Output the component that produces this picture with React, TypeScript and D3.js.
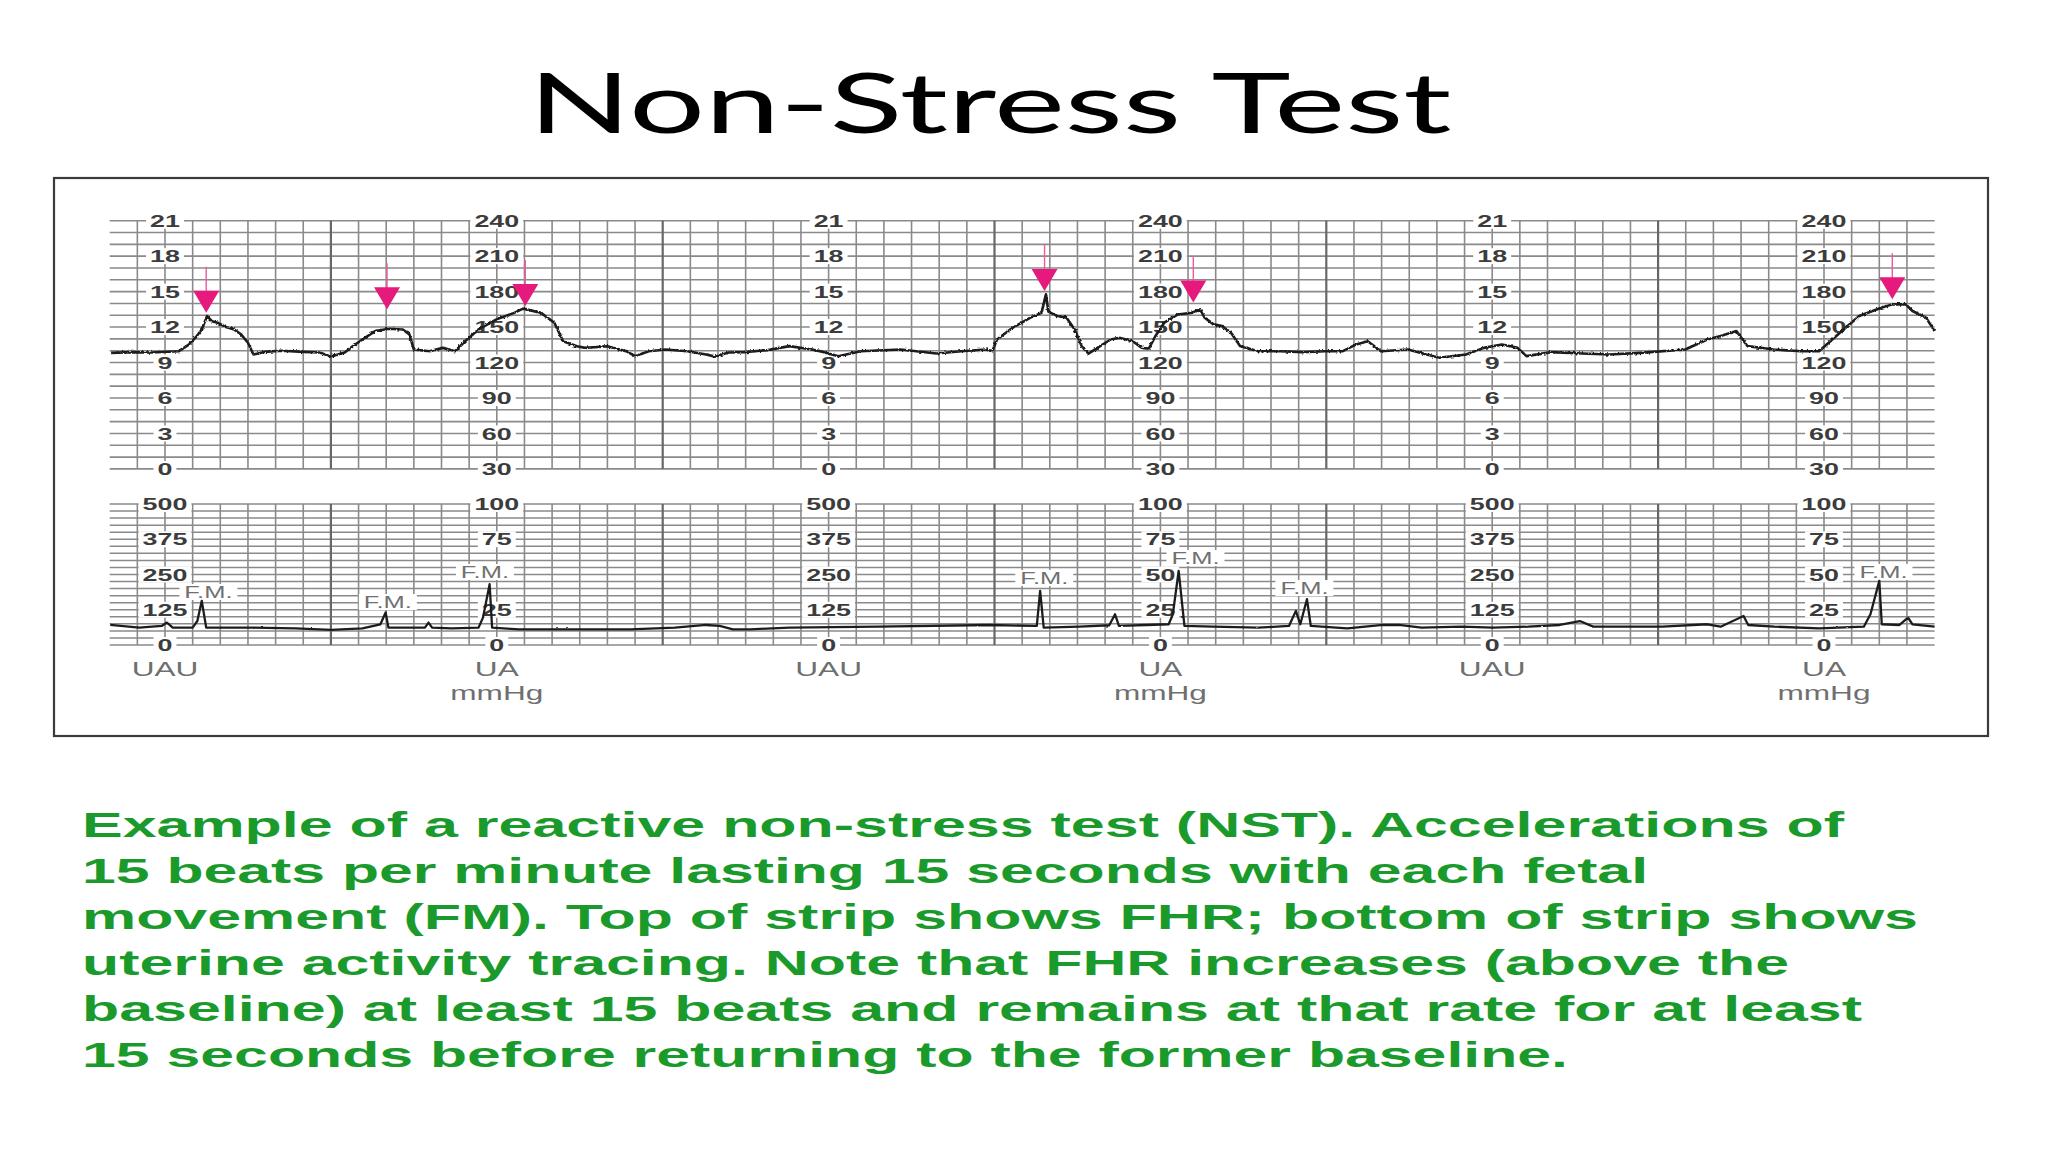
import React from 'react';
import * as d3 from 'd3';

const W = 2048;
const H = 1152;

// ---- Data (time in seconds, FHR in bpm, UA in mmHg) ----
const fhrTime = [0.5, 8, 15, 25, 28.5, 31, 33.3, 35.2, 37, 39, 42, 45, 47.5, 50, 52, 56, 62, 70, 76, 80, 85, 88, 91.4, 96, 101, 106, 108.4, 110, 115.7, 120.5, 125, 128.5, 133.4, 139.9, 146.3, 149.5, 156, 160.8, 164, 169, 172, 180, 186.8, 190, 195, 201, 209, 215.7, 219, 223.8, 229.6, 238, 245.8, 253.9, 258, 263.5, 271.6, 286, 299, 308, 316.8, 319.2, 320.9, 326.5, 333, 337, 338.6, 339.5, 342.7, 346, 349, 351.5, 354, 357.2, 362, 365.2, 370, 373.3, 375.8, 378.2, 381.4, 386.3, 391.2, 394.3, 396, 399.2, 402.4, 405.6, 408.8, 415.3, 423.4, 431.4, 439.5, 446, 450.8, 455, 459.8, 469.5, 480.8, 490.5, 497, 503.5, 509.2, 512.4, 521.3, 532.5, 542.3, 553.6, 569.8, 577.8, 582.6, 588.3, 592.3, 602, 611.7, 618.2, 623, 627.8, 632.7, 640.7, 644.7, 649.6, 652, 656.9, 660];
const fhrBpm = [128.2, 128.8, 128.5, 129.6, 135, 141, 148, 159.3, 155, 153.7, 150, 148, 143.8, 136.7, 126.8, 129, 130, 129, 128.5, 125, 128.5, 134, 139.5, 146.6, 148.6, 148, 143.8, 131, 129.6, 132.4, 129.6, 138, 148, 156.5, 162, 165.6, 162, 153.7, 138, 133.8, 132.4, 133.8, 129.6, 125.4, 129.6, 131, 129.6, 126.8, 125, 128.5, 128.8, 130.5, 133.9, 131, 129, 125.4, 129.6, 131, 127.6, 129.5, 131, 129.6, 139.5, 149.4, 158, 162, 177.7, 163, 159.3, 158, 148, 133.9, 127.6, 132.4, 139.5, 141, 138, 132.4, 131.8, 142.4, 153.7, 160.7, 162, 165, 158, 152.3, 150.8, 145, 133.9, 129.6, 129.6, 128.8, 129.6, 129.6, 135.3, 138, 129.6, 131, 124, 126.8, 132.4, 135.3, 132.4, 125.4, 128.8, 127.6, 126.8, 128.2, 131, 139.5, 142.4, 146.6, 133.9, 131, 129.6, 129.6, 139.5, 149.4, 159.3, 166.4, 169.2, 169.2, 163.6, 158, 146.6];

const uaTime = [0.2, 10.7, 18.8, 20.7, 22.8, 30, 31.7, 33.3, 34.9, 51.1, 67.2, 80.1, 91.4, 97.9, 99.8, 100.8, 107.5, 114, 115.3, 116.6, 123.7, 133.4, 135, 137.4, 138.3, 148, 164, 188.3, 204.4, 215.7, 220.6, 225.4, 231.6, 245.8, 278, 318.4, 335.3, 336.5, 337.8, 350.7, 361.5, 363.6, 365, 375, 383, 384.5, 386.6, 388.7, 399, 415.3, 426.5, 429, 430.6, 433, 434.4, 447.6, 460.5, 466.3, 474.4, 488.9, 500.2, 513.1, 524.4, 531.7, 536.5, 561.6, 577.8, 582.6, 590.9, 592.6, 602, 618.2, 634.4, 636.8, 640, 640.9, 647.3, 650.4, 652, 660];
const uaMmHg = [14.2, 12.3, 13.5, 15.9, 12.3, 12.3, 17, 31.3, 12.3, 12.3, 11.8, 10.7, 11.8, 14.7, 23, 12.3, 12.3, 12.3, 15.9, 12.3, 11.8, 12.3, 19.4, 43.1, 12.3, 11.1, 11.1, 11.1, 12.3, 14.2, 13.5, 11.1, 11.1, 12.3, 13, 14.2, 13.5, 38.4, 12.3, 13, 14, 21.8, 13.5, 14.2, 14.7, 21.8, 52.6, 13.5, 13, 12.3, 13.5, 24.2, 14.7, 32.5, 13.5, 11.8, 14.2, 14.2, 12.3, 13, 12.3, 13, 14.2, 17, 13, 13, 14.7, 13, 20.6, 14.2, 13, 11.8, 13, 21.8, 45.5, 14.7, 14.2, 19.4, 14.7, 13];

// acceleration markers (time, bpm at arrow tip)
const arrowTime = [34.9, 100.3, 150.3, 338.1, 391.9, 644.7];
const arrowBpm = [162.2, 165, 167.8, 180.6, 170.7, 173.5];

// fetal movement annotations (time, mmHg level of label)
const fmTime = [35.7, 100.6, 135.7, 338, 392.7, 432.1, 641.5];
const fmLevel = [37.6, 30.5, 51.8, 47.5, 61.7, 40.4, 51.8];

// axes
const kpaTicks = [0, 3, 6, 9, 12, 15, 18, 21];
const bpmTicks = [30, 60, 90, 120, 150, 180, 210, 240];
const uauTicks = [0, 125, 250, 375, 500];
const mmhgTicks = [0, 25, 50, 75, 100];
const leftAxisTimes = [20, 260, 500];
const rightAxisTimes = [140, 380, 620];

const titleText = 'Non-Stress Test';
const captionLines = [
  'Example of a reactive non-stress test (NST). Accelerations of',
  '15 beats per minute lasting 15 seconds with each fetal',
  'movement (FM). Top of strip shows FHR; bottom of strip shows',
  'uterine activity tracing. Note that FHR increases (above the',
  'baseline) at least 15 beats and remains at that rate for at least',
  '15 seconds before returning to the former baseline.',
];
const captionWidths = [1762, 1566, 1836, 1707, 1780, 1486];

const SX = 1.58;
const LABEL_FONT = '"Liberation Sans", Arial, sans-serif';

function StretchText(props: any) {
  const { x, y, size, weight, fill, children, sx } = props;
  return (
    <text
      transform={`translate(${x},${y}) scale(${sx ?? SX},1)`}
      textAnchor="middle"
      dominantBaseline="central"
      fontFamily={LABEL_FONT}
      fontSize={size}
      fontWeight={weight ?? 'normal'}
      fill={fill}
    >
      {children}
    </text>
  );
}

export default function App() {
  const x = d3.scaleLinear().domain([0, 660]).range([109.7, 1934.6]);
  const yF = d3.scaleLinear().domain([30, 240]).range([468.9, 220.7]);
  const yU = d3.scaleLinear().domain([0, 100]).range([645, 504]);

  const fhrPath = d3
    .line<number>()
    .x((_, i) => x(fhrTime[i]))
    .y((d) => yF(d))(fhrBpm) as string;
  const uaPath = d3
    .line<number>()
    .x((_, i) => x(uaTime[i]))
    .y((d) => yU(d))(uaMmHg) as string;

  const divs = d3.range(1, 66);
  const fhrLines = d3.range(30, 241, 10);
  const uaLines = d3.range(0, 101, 5);

  const gridColor = '#8a8a8a';
  const majorColor = '#676767';

  const FM_W = 58;
  const FM_H = 16;
  const fmBoxes = fmTime.map((t, i) => ({ x0: x(t) - FM_W / 2, x1: x(t) + FM_W / 2, y0: yU(fmLevel[i]) - FM_H / 2, y1: yU(fmLevel[i]) + FM_H / 2 }));

  const tickLabel = (cx: number, cy: number, txt: string, key: string) => {
    const w = txt.length * 0.556 * 17 * SX + 8;
    const tw = txt.length * 0.556 * 17 * SX;
    // hidden where an F.M. annotation box covers the label centre
    const covered = fmBoxes.some((b) => cx - tw / 4 < b.x1 && cx + tw / 4 > b.x0 && cy > b.y0 && cy < b.y1);
    if (covered) return null;
    return (
      <g key={key}>
        <rect x={cx - w / 2} y={cy - 8} width={w} height={16} fill="#fff" />
        <StretchText x={cx} y={cy + 0.5} size={17} weight="bold" fill="#3c3c3c">
          {txt}
        </StretchText>
      </g>
    );
  };

  const isMajor = (d: number) => d % 6 === 2 && d % 12 !== 2;

  return (
    <svg
      width={W}
      height={H}
      viewBox={`0 0 ${W} ${H}`}
      style={{ position: 'absolute', left: 0, top: 0, background: '#fff' }}
    >
      <defs>
        <filter id="rough" x="-2%" y="-30%" width="104%" height="160%">
          <feTurbulence type="fractalNoise" baseFrequency="0.45" numOctaves="1" seed="7" />
          <feDisplacementMap in="SourceGraphic" scale="3.2" xChannelSelector="R" yChannelSelector="G" />
        </filter>
        <filter id="roughLight" x="-2%" y="-30%" width="104%" height="160%">
          <feTurbulence type="fractalNoise" baseFrequency="0.2" numOctaves="1" seed="3" />
          <feDisplacementMap in="SourceGraphic" scale="1.8" xChannelSelector="R" yChannelSelector="G" />
        </filter>
      </defs>
      <rect x={0} y={0} width={W} height={H} fill="#fff" />
      <text
        x={990}
        y={133}
        textAnchor="middle"
        fontFamily="Lato, 'Open Sans', sans-serif"
        fontSize={84}
        textLength={923}
        lengthAdjust="spacingAndGlyphs"
        fill="#000"
      >
        {titleText}
      </text>

      <rect x={54} y={178} width={1934} height={558} fill="#fff" stroke="#3a3a3a" strokeWidth={2.2} />

      {/* FHR grid */}
      <g>
        {fhrLines.map((v) => (
          <line key={'fh' + v} x1={x(0)} x2={x(660)} y1={yF(v)} y2={yF(v)} stroke={gridColor} strokeWidth={1.6} />
        ))}
        {divs.map((d) => (
          <line
            key={'fv' + d}
            x1={x(d * 10)}
            x2={x(d * 10)}
            y1={yF(240)}
            y2={yF(30)}
            stroke={isMajor(d) ? majorColor : gridColor}
            strokeWidth={isMajor(d) ? 2.2 : 1.6}
          />
        ))}
      </g>
      {/* UA grid */}
      <g>
        {uaLines.map((v) => (
          <line key={'uh' + v} x1={x(0)} x2={x(660)} y1={yU(v)} y2={yU(v)} stroke={gridColor} strokeWidth={1.5} />
        ))}
        {divs.map((d) => (
          <line
            key={'uv' + d}
            x1={x(d * 10)}
            x2={x(d * 10)}
            y1={yU(100)}
            y2={yU(0)}
            stroke={isMajor(d) ? majorColor : gridColor}
            strokeWidth={isMajor(d) ? 2.2 : 1.6}
          />
        ))}
      </g>

      {/* axis labels */}
      {leftAxisTimes.map((t) => (
        <g key={'la' + t}>
          {kpaTicks.map((k, i) => tickLabel(x(t), yF(bpmTicks[i]), String(k), 'k' + t + k))}
          {uauTicks.map((u, i) => tickLabel(x(t), yU(mmhgTicks[i]), String(u), 'u' + t + u))}
          <StretchText x={x(t)} y={669} size={20} fill="#6f6f6f">UAU</StretchText>
        </g>
      ))}
      {rightAxisTimes.map((t) => (
        <g key={'ra' + t}>
          {bpmTicks.map((b) => tickLabel(x(t), yF(b), String(b), 'b' + t + b))}
          {mmhgTicks.map((m) => tickLabel(x(t), yU(m), String(m), 'm' + t + m))}
          <StretchText x={x(t)} y={669} size={20} fill="#6f6f6f">UA</StretchText>
          <StretchText x={x(t)} y={693} size={20} fill="#6f6f6f">mmHg</StretchText>
        </g>
      ))}

      {/* FM labels */}
      {fmTime.map((t, i) => (
        <g key={'fm' + i}>
          <rect x={fmBoxes[i].x0} y={fmBoxes[i].y0} width={FM_W} height={FM_H} fill="#fff" />
          <StretchText x={x(t)} y={yU(fmLevel[i])} size={17} fill="#707070" sx={1.5}>F.M.</StretchText>
        </g>
      ))}

      {/* traces */}
      <path d={fhrPath} fill="none" stroke="#1e1e1e" strokeWidth={2.6} strokeLinejoin="round" filter="url(#rough)" />
      <path d={uaPath} fill="none" stroke="#1e1e1e" strokeWidth={2.3} strokeLinejoin="round" filter="url(#roughLight)" />

      {/* acceleration arrows */}
      {arrowTime.map((t, i) => {
        const cx = x(t);
        const tip = yF(arrowBpm[i]);
        return (
          <g key={'ar' + i}>
            <line x1={cx} x2={cx} y1={tip - 46} y2={tip - 20} stroke="#ee5a9c" strokeWidth={1.4} />
            <path d={`M${cx - 13},${tip - 22} L${cx + 13},${tip - 22} L${cx},${tip} Z`} fill="#e6197d" />
          </g>
        );
      })}

      {/* caption */}
      {captionLines.map((line, i) => (
        <text
          key={'c' + i}
          x={82}
          y={837 + i * 46}
          fontFamily={LABEL_FONT}
          fontWeight="bold"
          fontSize={35}
          fill="#1b9a2c"
          textLength={captionWidths[i]}
          lengthAdjust="spacingAndGlyphs"
        >
          {line}
        </text>
      ))}
    </svg>
  );
}
